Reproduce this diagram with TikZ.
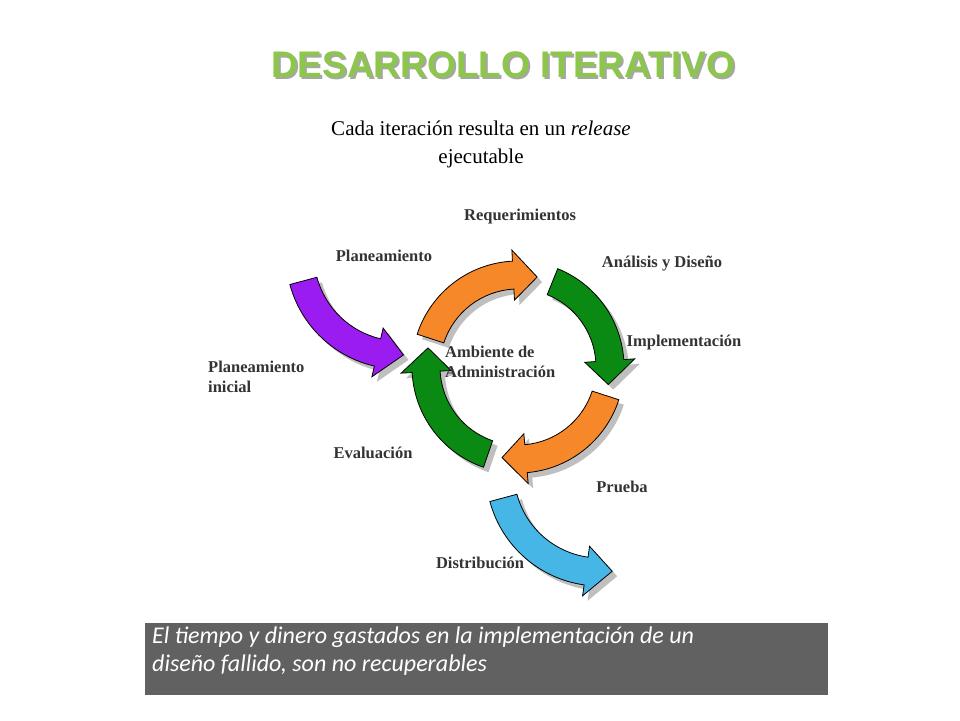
\documentclass[tikz,border=0pt]{standalone}
\usepackage{fontspec}
\setmainfont{Liberation Serif}
\newfontfamily\arialf{Liberation Sans}
\newfontfamily\calf{Carlito}
\definecolor{orng}{HTML}{F7882A}
\definecolor{grn}{HTML}{0A8A12}
\definecolor{purp}{HTML}{9B1CF0}
\definecolor{blu}{HTML}{45B6E6}
\definecolor{ttl}{HTML}{8CC64A}
\newcommand\arcarr[7]{% name, color, cx, cy, R, start, end
 \pgfmathsetmacro\sgn{(#7>#6)?1:-1}
 \pgfmathsetmacro\hb{#7-\sgn*15}
 \pgfmathsetmacro\ro{#5+14}\pgfmathsetmacro\ri{#5-14}
 \pgfmathsetmacro\ho{#5+25}\pgfmathsetmacro\hi{#5-25}
 \begin{scope}[shift={(#3+5,#4-5)}]
  \fill[black!25] (#6:\ro) arc[start angle=#6,end angle=\hb,radius=\ro] -- (\hb:\ho) -- (#7:#5) -- (\hb:\hi) -- (\hb:\ri) arc[start angle=\hb,end angle=#6,radius=\ri] -- cycle;
 \end{scope}
 \begin{scope}[shift={(#3,#4)}]
  \draw[fill=#2,line width=0.8pt] (#6:\ro) arc[start angle=#6,end angle=\hb,radius=\ro] -- (\hb:\ho) -- (#7:#5) coordinate (#1) -- (\hb:\hi) -- (\hb:\ri) arc[start angle=\hb,end angle=#6,radius=\ri] -- cycle;
 \end{scope}}
\begin{document}
\begin{tikzpicture}[x=1pt,y=1pt,
  lbl/.style={font=\bfseries\fontsize{16.5}{20}\selectfont, inner sep=0pt, text=black!80},
  lbll/.style={lbl, anchor=west, align=left}]
\useasboundingbox (0,0) rectangle (960,720);
\fill[white] (0,0) rectangle (960,720);
% title
\node[text=black!35, font=\arialf\bfseries\fontsize{37}{42}\selectfont] at (505,653) {DESARROLLO ITERATIVO};
\node (title) [text=ttl, font=\arialf\bfseries\fontsize{37}{42}\selectfont] at (503,655) {DESARROLLO ITERATIVO};
\node (sub) [font=\fontsize{21}{28}\selectfont, align=center] at (481,576) {Cada iteración resulta en un \textit{release}\\ejecutable};
% arrows
\arcarr{a1}{orng}{518}{353}{92}{162}{78}
\arcarr{a2}{grn}{518}{353}{92}{68}{-11}
\arcarr{a3}{orng}{518}{353}{92}{-18}{-100}
\arcarr{a4}{grn}{518}{353}{92}{251}{168}
\arcarr{a5}{purp}{400}{465}{100}{195}{272}
\arcarr{a6}{blu}{600}{248}{100}{195}{277}
% labels
\node (req) [lbl] at (520,503) {Requerimientos};
\node (plan) [lbl] at (384,464) {Planeamiento};
\node (ad) [lbl] at (662,456) {Análisis y Diseño};
\node (imp) [lbl] at (684,377) {Implementación};
\node (amb) [lbll] at (445,358) {Ambiente de\\Administración};
\node (pi) [lbll] at (208,343) {Planeamiento\\inicial};
\node (ev) [lbl] at (373,267) {Evaluación};
\node (pr) [lbl] at (622,233) {Prueba};
\node (di) [lbl] at (480,157) {Distribución};
% bottom box
\fill[black!62] (145,25) rectangle (828,97);
\node (note) [anchor=north west, align=left, text=white, font=\calf\itshape\fontsize{24}{28}\selectfont, inner sep=0pt] at (152,93) {El tiempo y dinero gastados en la implementación de un\\diseño fallido, son no recuperables};
\end{tikzpicture}
\end{document}
